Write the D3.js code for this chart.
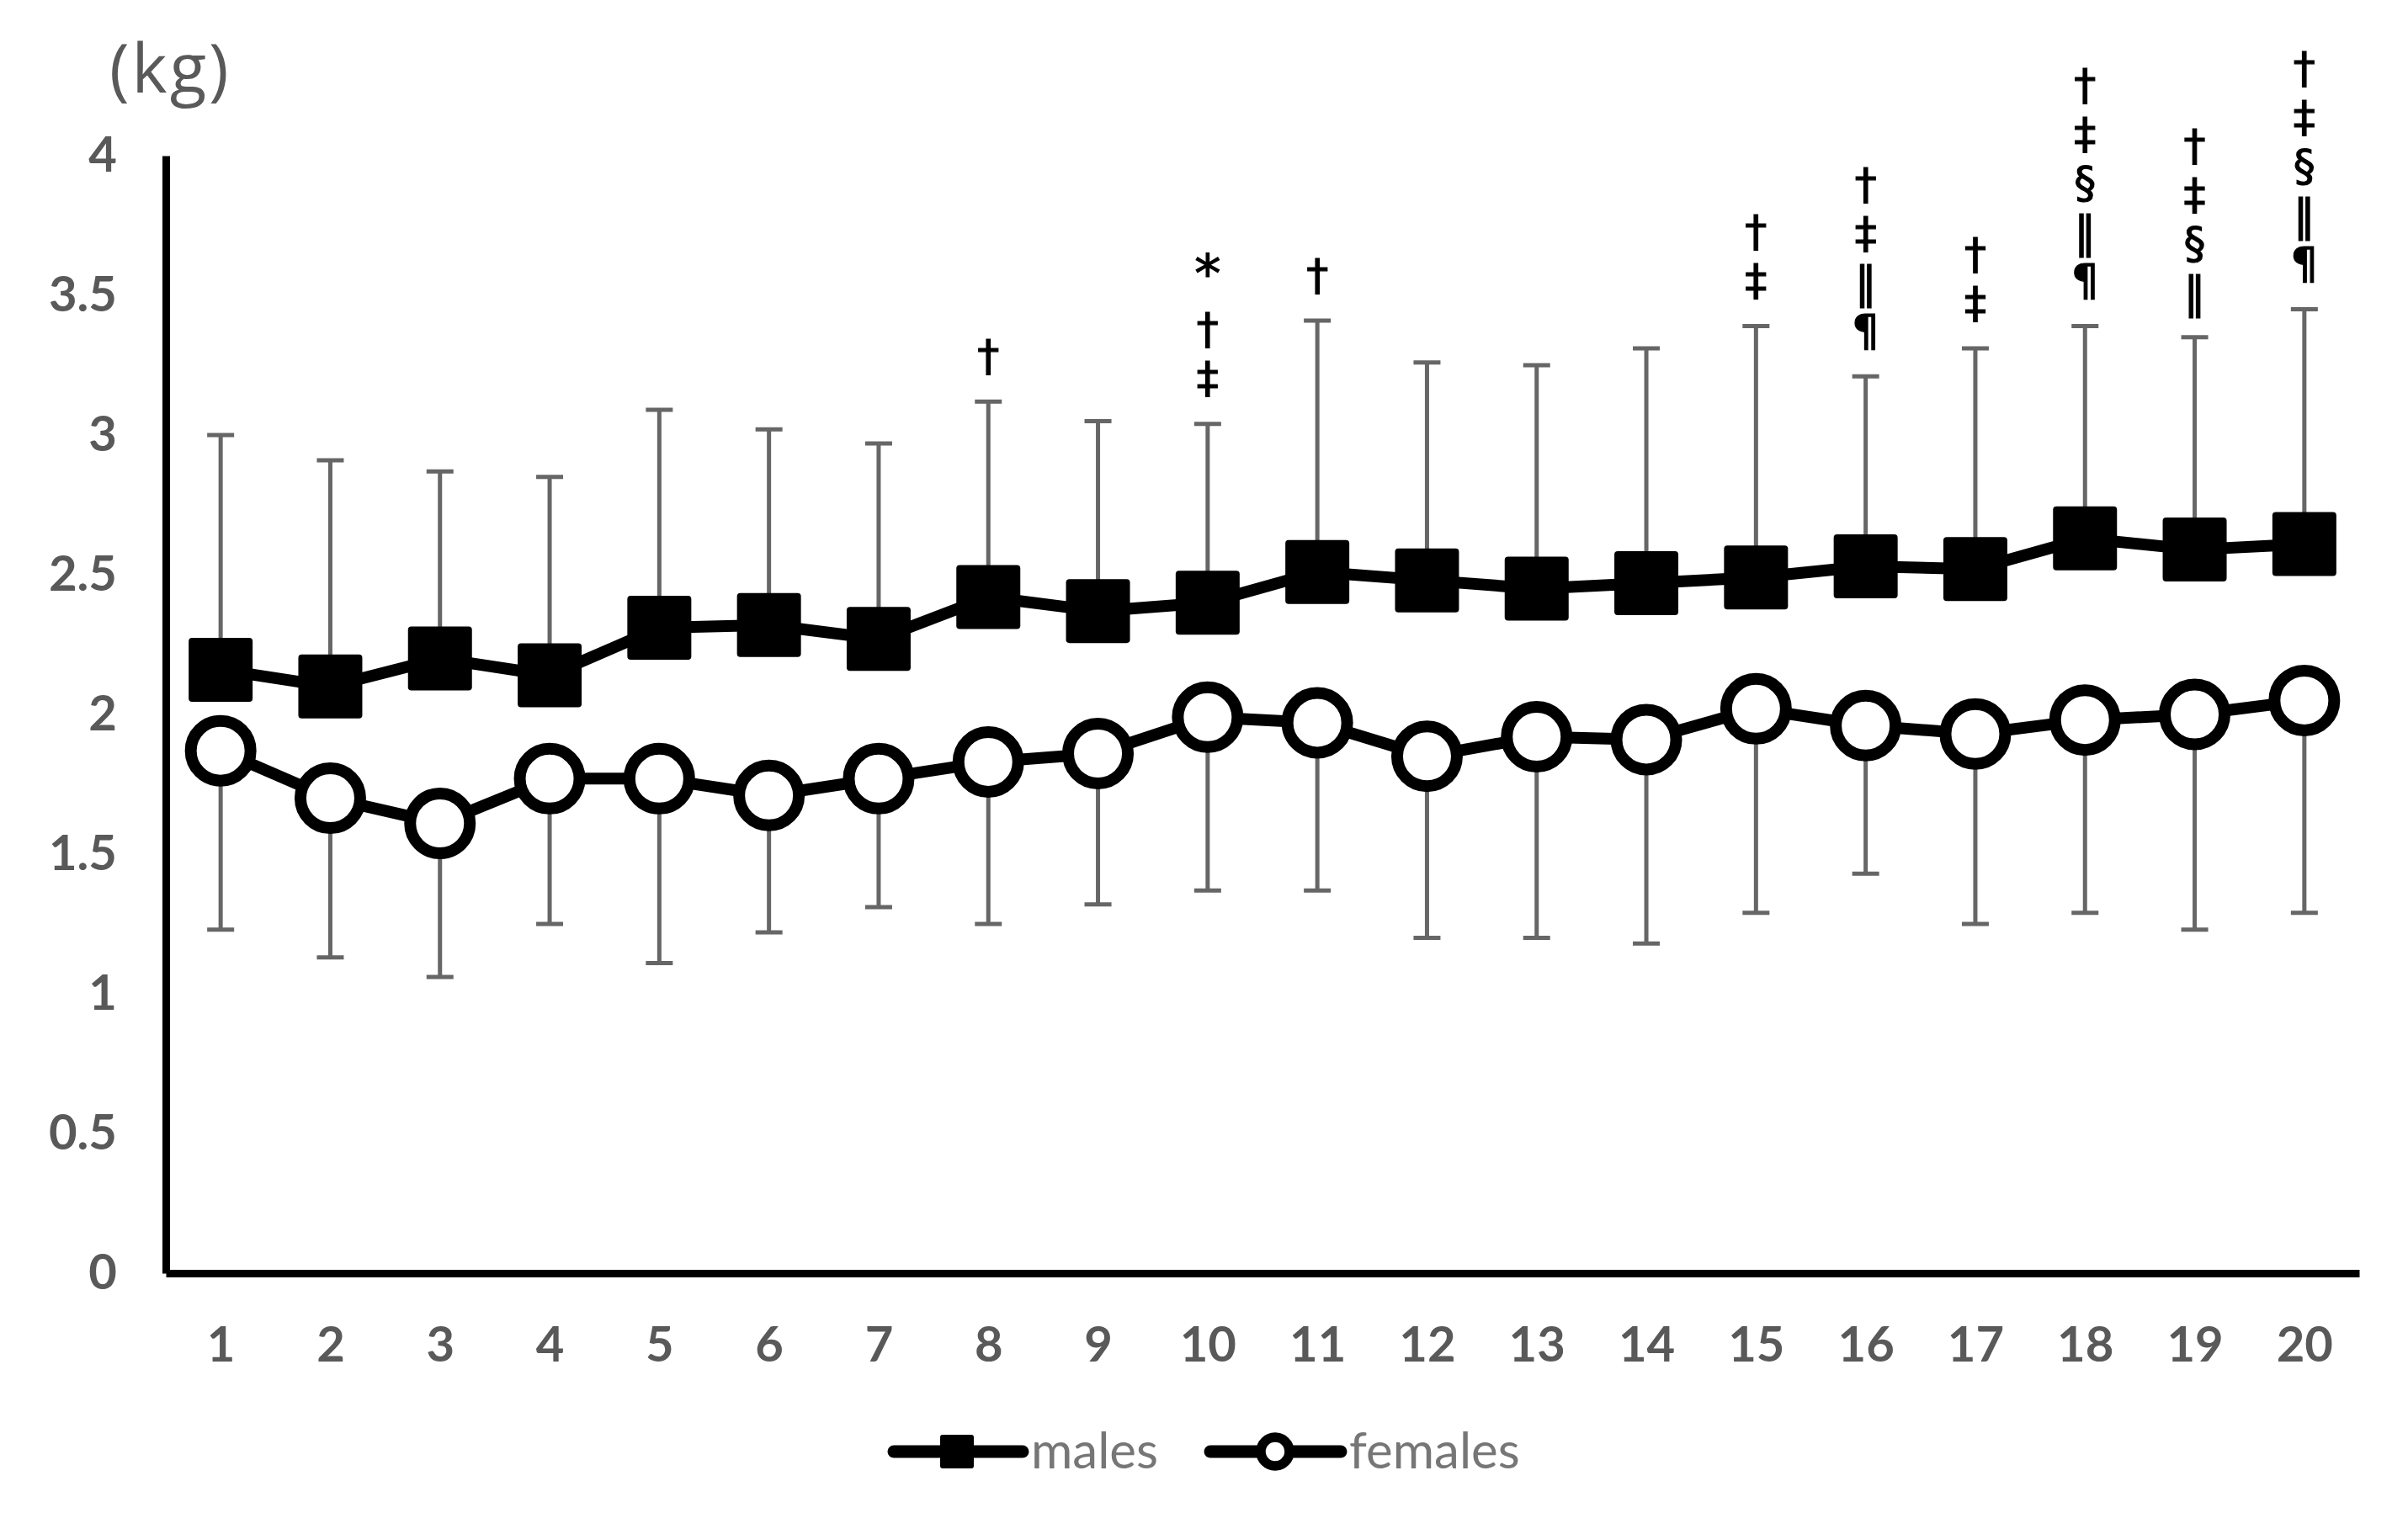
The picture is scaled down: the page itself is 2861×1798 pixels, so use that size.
<!DOCTYPE html>
<html>
<head>
<meta charset="utf-8">
<script src="https://cdn.jsdelivr.net/npm/d3@7"></script>
<style>
  html, body { margin: 0; padding: 0; background: #fff; }
  svg { display: block; }
</style>
</head>
<body>
<svg id="chart"></svg>
<script>
// session number 1..20
const categories = d3.range(1, 21).map(String);

const maleMean = [2.16, 2.10, 2.20, 2.14, 2.31, 2.32, 2.27, 2.42, 2.37, 2.40,
                  2.51, 2.48, 2.45, 2.47, 2.49, 2.53, 2.52, 2.63, 2.59, 2.61];
const maleSD = [0.84, 0.81, 0.67, 0.71, 0.78, 0.70, 0.70, 0.70, 0.68, 0.64,
                0.90, 0.78, 0.80, 0.84, 0.90, 0.68, 0.79, 0.76, 0.76, 0.84];

const femaleMean = [1.87, 1.70, 1.61, 1.77, 1.77, 1.71, 1.77, 1.83, 1.86, 1.99,
                    1.97, 1.85, 1.92, 1.91, 2.02, 1.96, 1.93, 1.98, 2.00, 2.05];
const femaleSD = [0.64, 0.57, 0.55, 0.52, 0.66, 0.49, 0.46, 0.58, 0.54, 0.62,
                  0.60, 0.65, 0.72, 0.73, 0.73, 0.53, 0.68, 0.69, 0.77, 0.76];

// significance marks stacked above the male bars
const marks = ["", "", "", "", "", "", "", "†", "", "*†‡",
               "†", "", "", "", "†‡", "†‡‖¶", "†‡", "†‡§‖¶", "†‡§‖", "†‡§‖¶"];

const yTicks = [0, 0.5, 1, 1.5, 2, 2.5, 3, 3.5, 4];

const width = 2861, height = 1798;
const gray = "#595959";

const svg = d3.select("#chart").attr("width", width).attr("height", height);

const x = d3.scalePoint().domain(categories).range([197, 2803]).padding(0.5);
const y = d3.scaleLinear().domain([0, 4]).range([1513, 185]);

// axes
const yAxis = svg.append("g")
  .attr("transform", "translate(197,0)")
  .call(d3.axisLeft(y).tickValues(yTicks).tickSize(0).tickPadding(58)
    .tickFormat(d => String(d)));
const xAxis = svg.append("g")
  .attr("transform", "translate(0,1513)")
  .call(d3.axisBottom(x).tickSize(0).tickPadding(64));

[yAxis, xAxis].forEach(g => {
  g.select(".domain").attr("stroke", "#000").attr("stroke-width", 9);
  g.selectAll("text")
    .attr("fill", gray)
    .attr("font-family", "Lato, 'Open Sans', sans-serif")
    .attr("font-weight", "bold")
    .attr("font-size", 58);
});

svg.append("text")
  .attr("x", 130).attr("y", 110)
  .attr("fill", gray)
  .attr("font-family", "'Open Sans', sans-serif")
  .attr("font-size", 80)
  .attr("letter-spacing", 3)
  .text("(kg)");

// error bars
const capW = 32;
function errorBars(means, sds, dir) {
  const g = svg.append("g").attr("stroke", "#666").attr("stroke-width", 5);
  categories.forEach((c, i) => {
    const tip = y(means[i] + dir * sds[i]);
    g.append("line").attr("x1", x(c)).attr("x2", x(c))
      .attr("y1", y(means[i])).attr("y2", tip);
    g.append("line").attr("x1", x(c) - capW / 2).attr("x2", x(c) + capW / 2)
      .attr("y1", tip).attr("y2", tip);
  });
}
errorBars(maleMean, maleSD, 1);
errorBars(femaleMean, femaleSD, -1);

// lines
const line = d3.line().x((d, i) => x(categories[i])).y(d => y(d));
[maleMean, femaleMean].forEach(s => {
  svg.append("path").datum(s)
    .attr("d", line)
    .attr("fill", "none")
    .attr("stroke", "#000")
    .attr("stroke-width", 14)
    .attr("stroke-linejoin", "round");
});

// markers
const sq = 76;
svg.append("g").selectAll("rect").data(maleMean).join("rect")
  .attr("x", (d, i) => x(categories[i]) - sq / 2)
  .attr("y", d => y(d) - sq / 2)
  .attr("width", sq).attr("height", sq)
  .attr("rx", 4)
  .attr("fill", "#000");

svg.append("g").selectAll("circle").data(femaleMean).join("circle")
  .attr("cx", (d, i) => x(categories[i]))
  .attr("cy", d => y(d))
  .attr("r", 35.5)
  .attr("fill", "#fff")
  .attr("stroke", "#000")
  .attr("stroke-width", 14);

// significance marks: one text per column, one tspan per symbol
const markSize = 52, markStep = 58;
categories.forEach((c, i) => {
  const chars = Array.from(marks[i]);
  if (!chars.length) return;
  const capY = y(maleMean[i] + maleSD[i]);
  const topCenter = capY - 55 - (chars.length - 1) * markStep;
  const t = svg.append("text")
    .attr("text-anchor", "middle")
    .attr("font-family", "'DejaVu Sans', sans-serif")
    .attr("font-size", markSize)
    .attr("fill", "#000")
    .attr("stroke", "#000")
    .attr("stroke-width", 1.2);
  chars.forEach((ch, k) => {
    t.append("tspan")
      .attr("x", x(c))
      .attr("y", topCenter + k * markStep + markSize * 0.36 - (ch === "*" ? 4 : 0))
      .attr("font-size", ch === "*" ? markSize * 1.2 : markSize)
      .text(ch);
  });
});

// legend
const legY = 1725;
const leg = svg.append("g");
leg.append("line").attr("x1", 1062).attr("x2", 1215).attr("y1", legY).attr("y2", legY)
  .attr("stroke", "#000").attr("stroke-width", 15).attr("stroke-linecap", "round");
leg.append("rect").attr("x", 1117).attr("y", legY - 20).attr("width", 40).attr("height", 40)
  .attr("rx", 3).attr("fill", "#000");
leg.append("text").attr("x", 1225).attr("y", 1745).text("males");

leg.append("line").attr("x1", 1438).attr("x2", 1593).attr("y1", legY).attr("y2", legY)
  .attr("stroke", "#000").attr("stroke-width", 15).attr("stroke-linecap", "round");
leg.append("circle").attr("cx", 1515).attr("cy", legY).attr("r", 17)
  .attr("fill", "#fff").attr("stroke", "#000").attr("stroke-width", 11.5);
leg.append("text").attr("x", 1603).attr("y", 1745).text("females");

leg.selectAll("text")
  .attr("fill", "#767676")
  .attr("font-family", "Lato, 'Open Sans', sans-serif")
  .attr("font-size", 60);
</script>
</body>
</html>
